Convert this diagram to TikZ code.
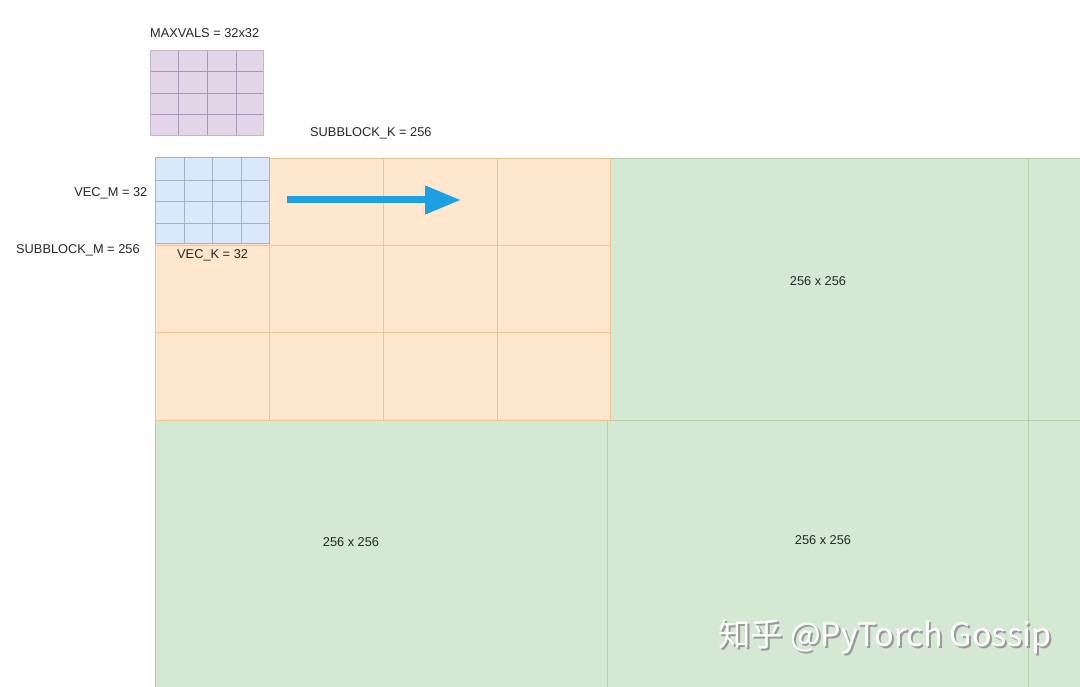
\documentclass[tikz,border=0pt]{standalone}
\usepackage{fontspec}
\setmainfont{Liberation Sans}
\newfontfamily\cjkwm{Noto Sans CJK SC}
\usetikzlibrary{arrows.meta}
\definecolor{pfill}{HTML}{E1D5E7}
\definecolor{pline}{HTML}{A896B6}
\definecolor{bfill}{HTML}{DAE8FC}
\definecolor{bline}{HTML}{A2B2C8}
\definecolor{ofill}{HTML}{FFE6CC}
\definecolor{oline}{HTML}{EFC48E}
\definecolor{gfill}{HTML}{D5E8D4}
\definecolor{gline}{HTML}{B5D0A8}
\definecolor{arrowblue}{HTML}{1BA1E2}
\tikzset{
  lbl/.style={font=\fontsize{12.8}{14}\selectfont, inner sep=0pt, text=black!85},
  cellgrid/.style={line width=0.7pt},
}
\begin{document}
\begin{tikzpicture}[x=1pt,y=-1pt]
\useasboundingbox (0,0) rectangle (1080,687);
\begin{scope}
\clip (0,0) rectangle (1080,687);
% green blocks
\fill[gfill] (610,158) rectangle (1080,420);
\fill[gfill] (155,420) rectangle (1080,700);
\draw[gline,cellgrid] (610,158) -- (1080,158);
\draw[gline,cellgrid] (1028,158) -- (1028,420);
\draw[gline,cellgrid] (610,420) -- (1080,420);
\draw[gline,cellgrid] (607,420) -- (607,700);
\draw[gline,cellgrid] (1028,420) -- (1028,700);
\draw[gline,cellgrid] (155,420) -- (155,700);
% orange sub-block
\fill[ofill] (155,158) rectangle (610,420);
\foreach \x in {269,383,497} \draw[oline,cellgrid] (\x,158) -- (\x,420);
\foreach \y in {245,332} \draw[oline,cellgrid] (155,\y) -- (610,\y);
\draw[oline,cellgrid] (155,158) rectangle (610,420);
% blue vector block
\fill[bfill] (155,158) rectangle (269,244);
\foreach \x in {184,212,241} \draw[bline,cellgrid] (\x,158) -- (\x,244);
\foreach \y in {180,201,223} \draw[bline,cellgrid] (155,\y) -- (269,\y);
\draw[bline,line width=1pt] (155,158) rectangle (269,244);
% purple maxvals block
\fill[pfill] (150,50) rectangle (263,135);
\foreach \x in {178,207,236} \draw[pline,cellgrid] (\x,50) -- (\x,135);
\foreach \y in {71,93,114} \draw[pline,cellgrid] (150,\y) -- (263,\y);
\draw[pline!70,cellgrid] (150,50) rectangle (263,135);
\end{scope}
% arrow
\coordinate (arrS) at (287,200);
\coordinate (arrE) at (461,200);
\draw[arrowblue, line width=7pt, -{Triangle[length=36pt,width=27pt]}] (arrS) -- (arrE);
% labels
\node[lbl, anchor=west] (maxvals) at (150,33.5) {MAXVALS = 32x32};
\node[lbl, anchor=west] (subk) at (310,133.5) {SUBBLOCK\_K = 256};
\node[lbl, anchor=east] (vecm) at (147.5,193.5) {VEC\_M = 32};
\node[lbl, anchor=west] (subm) at (16,250.5) {SUBBLOCK\_M = 256};
\node[lbl, anchor=west] (veck) at (177,255.5) {VEC\_K = 32};
\node[lbl] (g1) at (818,281) {256 x 256};
\node[lbl] (g2) at (351,542) {256 x 256};
\node[lbl] (g3) at (823,540) {256 x 256};
% watermark
\node[font=\cjkwm\fontsize{32.4}{35}\selectfont, text=black!40, inner sep=0pt, anchor=west] (wmshadow) at (720,639) {知乎 @PyTorch Gossip};
\node[font=\cjkwm\fontsize{32.4}{35}\selectfont, text=white, inner sep=0pt, anchor=west] (wm) at (718,637) {知乎 @PyTorch Gossip};
\end{tikzpicture}
\end{document}
